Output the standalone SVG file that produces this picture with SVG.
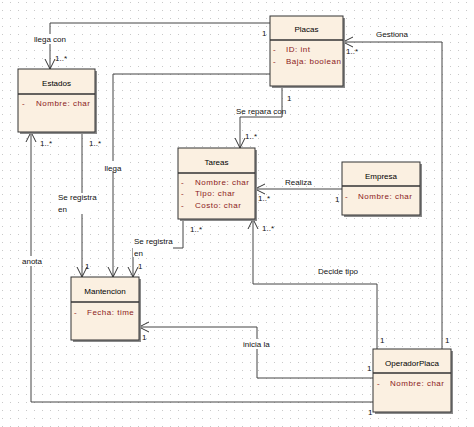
<svg xmlns="http://www.w3.org/2000/svg" width="474" height="427" viewBox="0 0 474 427">
<defs>
<pattern id="grid" width="8" height="8" patternUnits="userSpaceOnUse" x="2" y="2">
<rect x="0" y="0" width="1" height="1" fill="#c8c8c8"/>
</pattern>
<marker id="arr" viewBox="-11 -6 12 12" refX="0" refY="0" markerWidth="12" markerHeight="12" markerUnits="userSpaceOnUse" orient="auto">
<path d="M -10 -5 L 0 0 L -10 5" fill="none" stroke="#333" stroke-width="1"/>
</marker>
<style>
.box{fill:#fbf0e1;stroke:#333;stroke-width:1}
.sh{fill:#8a8a8a}
.div{stroke:#333;stroke-width:1.5}
.t{font-family:"Liberation Sans",Arial,sans-serif;font-size:8px;fill:#000}
.a{font-family:"Liberation Sans",Arial,sans-serif;font-size:8px;fill:#8b1a1a;letter-spacing:0.5px}
.l{font-family:"Liberation Sans",Arial,sans-serif;font-size:8px;fill:#111}
.c{fill:none;stroke:#444;stroke-width:1}
.bg{fill:#fff}
</style>
</defs>
<rect width="474" height="427" fill="#fff"/>
<rect width="474" height="427" fill="url(#grid)"/>

<g id="connectors">
<!-- llega con -->
<polyline class="c" points="270,23 50,23 50,69" marker-end="url(#arr)"/>
<!-- llega -->
<polyline class="c" points="270,74 113,74 113,277" marker-end="url(#arr)"/>
<!-- Se repara con -->
<polyline class="c" points="282,86 282,117 240,117 240,148" marker-end="url(#arr)"/>
<!-- Realiza -->
<polyline class="c" points="342,189 255,189" marker-end="url(#arr)"/>
<!-- Decide tipo -->
<polyline class="c" points="377,349 377,284 253,284 253,219" marker-end="url(#arr)"/>
<!-- Gestiona -->
<polyline class="c" points="442,349 442,42 343,42" marker-end="url(#arr)"/>
<!-- inicia la -->
<polyline class="c" points="373,378 257,378 257,327 139,327" marker-end="url(#arr)"/>
<!-- anota -->
<polyline class="c" points="373,402 31,402 31,132" marker-end="url(#arr)"/>
<!-- Se registra en (Estados) -->
<polyline class="c" points="82,132 82,277" marker-end="url(#arr)"/>
<!-- Se registra en (Tareas) -->
<polyline class="c" points="183,219 183,248 133,248 133,277" marker-end="url(#arr)"/>

<rect class="bg" x="30" y="34" width="40" height="10"/>
<text class="l" x="50" y="42" text-anchor="middle">llega con</text>
<text class="l" x="55" y="61">1..*</text>
<text class="l" x="262" y="36">1</text>

<rect class="bg" x="103" y="161" width="21" height="10"/>
<text class="l" x="113" y="171" text-anchor="middle">llega</text>

<text class="l" x="236" y="114">Se repara con</text>
<text class="l" x="287" y="101">1</text>
<text class="l" x="245" y="139">1..*</text>

<text class="l" x="285" y="185">Realiza</text>
<text class="l" x="258" y="201">1..*</text>
<text class="l" x="335" y="202">1</text>

<text class="l" x="318" y="274">Decide tipo</text>
<text class="l" x="262" y="231">1..*</text>
<text class="l" x="380" y="343">1</text>

<text class="l" x="376" y="37">Gestiona</text>
<text class="l" x="346" y="54">1..*</text>
<text class="l" x="445" y="343">1</text>

<rect class="bg" x="242" y="339" width="30" height="10"/>
<text class="l" x="243" y="347">inicia la</text>
<text class="l" x="142" y="340">1</text>
<text class="l" x="367" y="371">1</text>

<rect class="bg" x="21" y="256" width="21" height="10"/>
<text class="l" x="22" y="264">anota</text>
<text class="l" x="40" y="146">1..*</text>
<text class="l" x="368" y="415">1</text>

<rect class="bg" x="57" y="193" width="40" height="21"/>
<text class="l" x="58" y="200">Se registra</text>
<text class="l" x="58" y="212">en</text>
<text class="l" x="89" y="146">1..*</text>
<text class="l" x="85" y="269">1</text>

<rect class="bg" x="133" y="236" width="40" height="21"/>
<text class="l" x="134" y="244">Se registra</text>
<text class="l" x="134" y="256">en</text>
<text class="l" x="190" y="232">1..*</text>
<text class="l" x="138" y="269">1</text>
</g>

<g id="Estados">
<rect class="sh" x="20" y="71" width="77" height="63"/>
<rect class="box" x="18" y="69" width="77" height="63"/>
<line class="div" x1="18" y1="94" x2="95" y2="94"/>
<text class="t" x="56.5" y="86" text-anchor="middle">Estados</text>
<text class="a" x="22" y="106">-</text>
<text class="a" x="36" y="106">Nombre:  char</text>
</g>

<g id="Placas">
<rect class="sh" x="272" y="18" width="73" height="70"/>
<rect class="box" x="270" y="16" width="73" height="70"/>
<line class="div" x1="270" y1="40" x2="343" y2="40"/>
<text class="t" x="306.5" y="32" text-anchor="middle">Placas</text>
<text class="a" x="273" y="52">-</text>
<text class="a" x="286" y="52">ID:  int</text>
<text class="a" x="273" y="64">-</text>
<text class="a" x="286" y="64">Baja:  boolean</text>
</g>

<g id="Tareas">
<rect class="sh" x="180" y="150" width="77" height="71"/>
<rect class="box" x="178" y="148" width="77" height="71"/>
<line class="div" x1="178" y1="173" x2="255" y2="173"/>
<text class="t" x="216.5" y="165" text-anchor="middle">Tareas</text>
<text class="a" x="181" y="185">-</text>
<text class="a" x="195" y="185">Nombre:  char</text>
<text class="a" x="181" y="196">-</text>
<text class="a" x="195" y="196">Tipo:  char</text>
<text class="a" x="181" y="208">-</text>
<text class="a" x="195" y="208">Costo:  char</text>
</g>

<g id="Empresa">
<rect class="sh" x="344" y="164" width="78" height="53"/>
<rect class="box" x="342" y="162" width="78" height="53"/>
<line class="div" x1="342" y1="186" x2="420" y2="186"/>
<text class="t" x="381" y="179" text-anchor="middle">Empresa</text>
<text class="a" x="345" y="199">-</text>
<text class="a" x="358" y="199">Nombre:  char</text>
</g>

<g id="Mantencion">
<rect class="sh" x="73" y="279" width="68" height="63"/>
<rect class="box" x="71" y="277" width="68" height="63"/>
<line class="div" x1="71" y1="302" x2="139" y2="302"/>
<text class="t" x="105" y="294" text-anchor="middle">Mantencion</text>
<text class="a" x="74" y="315">-</text>
<text class="a" x="87" y="315">Fecha:  time</text>
</g>

<g id="OperadorPlaca">
<rect class="sh" x="375" y="351" width="78" height="63"/>
<rect class="box" x="373" y="349" width="78" height="63"/>
<line class="div" x1="373" y1="373" x2="451" y2="373"/>
<text class="t" x="412" y="366" text-anchor="middle">OperadorPlaca</text>
<text class="a" x="377" y="386">-</text>
<text class="a" x="390" y="386">Nombre:  char</text>
</g>
</svg>
